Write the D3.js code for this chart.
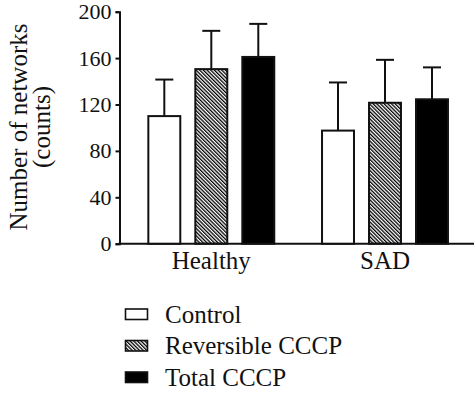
<!DOCTYPE html>
<html>
<head>
<meta charset="utf-8">
<script src="https://cdn.jsdelivr.net/npm/d3@7"></script>
<style>
  body { margin: 0; background: #fff; }
  text { font-family: "Liberation Serif", "Times New Roman", serif; fill: #111; }
</style>
</head>
<body>
<div id="chart"></div>
<script>
// data
const groups = ["Healthy", "SAD"];
const series = ["Control", "Reversible CCCP", "Total CCCP"];
const means = {
  "Healthy": [110, 150.5, 161],
  "SAD":     [97.5, 121.5, 124.5]
};
const errTops = {
  "Healthy": [141.5, 183.5, 189.5],
  "SAD":     [139, 158.5, 152]
};
const yTicks = [0, 40, 80, 120, 160, 200];

const width = 474, height = 395;

const svg = d3.select("#chart").append("svg")
    .attr("width", width)
    .attr("height", height);

// hatch pattern for reversible CCCP
const defs = svg.append("defs");
defs.append("pattern")
    .attr("id", "hatch")
    .attr("patternUnits", "userSpaceOnUse")
    .attr("width", 2.6)
    .attr("height", 2.6)
    .attr("patternTransform", "rotate(-45)")
  .append("line")
    .attr("x1", 0.65).attr("y1", 0)
    .attr("x2", 0.65).attr("y2", 2.6)
    .attr("stroke", "#000")
    .attr("stroke-width", 1.3);

const fills = ["#fff", "url(#hatch)", "#000"];

const y = d3.scaleLinear()
    .domain([0, 200])
    .range([243.7, 11.7]);

const x0 = d3.scaleBand()
    .domain(groups)
    .range([119.5, 476.8])
    .paddingInner(0.275)
    .paddingOuter(0.166);

const x1 = d3.scaleBand()
    .domain(series)
    .range([0, x0.bandwidth()])
    .paddingInner(0.32)
    .paddingOuter(0);

// y axis
const yAxis = svg.append("g")
    .attr("transform", "translate(119.5,0)")
    .call(d3.axisLeft(y).tickValues(yTicks).tickSize(4).tickPadding(4));
yAxis.select(".domain").attr("stroke", "#111").attr("stroke-width", 2);
yAxis.selectAll(".tick line").attr("stroke", "#111").attr("stroke-width", 2);
yAxis.selectAll(".tick text")
    .attr("font-family", "Liberation Serif, serif")
    .attr("font-size", 22)
    .attr("fill", "#111");

// x axis baseline
svg.append("line")
    .attr("x1", 118.5).attr("x2", width)
    .attr("y1", y(0)).attr("y2", y(0))
    .attr("stroke", "#111")
    .attr("stroke-width", 2);

// group labels
svg.append("g").selectAll("text")
  .data(groups)
  .join("text")
    .attr("x", d => x0(d) + x0.bandwidth() / 2)
    .attr("y", 269)
    .attr("text-anchor", "middle")
    .attr("font-size", 25)
    .text(d => d);

// bars
const rows = groups.flatMap(g => series.map((s, i) => ({ g, s, i, v: means[g][i], e: errTops[g][i] })));

const bars = svg.append("g");

// error bars drawn first so bar tops sit over them
bars.selectAll("g.err")
  .data(rows)
  .join("g")
    .attr("class", "err")
    .attr("stroke", "#111")
    .attr("stroke-width", 2)
    .each(function(d) {
      const cx = x0(d.g) + x1(d.s) + x1.bandwidth() / 2;
      const g = d3.select(this);
      g.append("line")
          .attr("x1", cx).attr("x2", cx)
          .attr("y1", y(d.v)).attr("y2", y(d.e));
      g.append("line")
          .attr("x1", cx - 9).attr("x2", cx + 9)
          .attr("y1", y(d.e)).attr("y2", y(d.e));
    });

bars.selectAll("rect")
  .data(rows)
  .join("rect")
    .attr("x", d => x0(d.g) + x1(d.s))
    .attr("y", d => y(d.v))
    .attr("width", x1.bandwidth())
    .attr("height", d => y(0) - y(d.v))
    .attr("fill", d => fills[d.i])
    .attr("stroke", "#111")
    .attr("stroke-width", 2);

// y axis title, two lines
const yt = svg.append("text")
    .attr("transform", "translate(0,127) rotate(-90)")
    .attr("text-anchor", "middle")
    .attr("font-size", 25);
yt.append("tspan").attr("x", 0).attr("y", 27).text("Number of networks");
yt.append("tspan").attr("x", 0).attr("y", 50).text("(counts)");

// legend
const legend = svg.append("g")
  .selectAll("g")
  .data(series)
  .join("g")
    .attr("transform", (d, i) => `translate(125,${309 + i * 31.5})`);

legend.append("rect")
    .attr("x", 0.5).attr("y", 0)
    .attr("width", 22).attr("height", 10.5)
    .attr("fill", (d, i) => fills[i])
    .attr("stroke", "#111")
    .attr("stroke-width", 1.6);

legend.append("text")
    .attr("x", 40)
    .attr("y", 13.5)
    .attr("font-size", 25)
    .text(d => d);
</script>
</body>
</html>
